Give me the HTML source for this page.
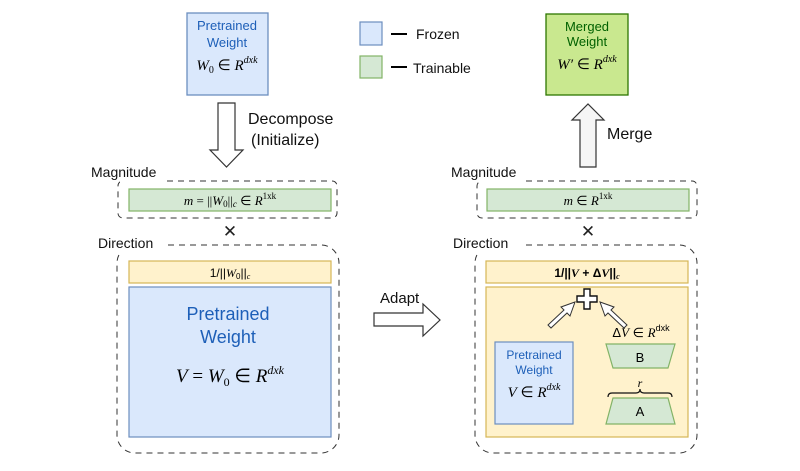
<!DOCTYPE html>
<html><head><meta charset="utf-8"><style>
html,body{margin:0;padding:0;background:#fff;width:800px;height:471px;overflow:hidden}
text{font-family:"Liberation Sans",sans-serif}
.m{font-family:"Liberation Serif",serif;font-style:italic}
</style></head><body>
<svg width="800" height="471" viewBox="0 0 800 471" xmlns="http://www.w3.org/2000/svg">
<rect x="187" y="13" width="81" height="82" fill="#dae8fc" stroke="#6c8ebf" stroke-width="1.3"/>
<text x="227" y="30" font-size="13" fill="#1d5fb8" text-anchor="middle">Pretrained</text>
<text x="227" y="47" font-size="13" fill="#1d5fb8" text-anchor="middle">Weight</text>
<text x="227" y="70" font-size="15" text-anchor="middle" class="m">W<tspan font-size="10" font-style="normal" dy="3">0</tspan><tspan dy="-3" font-style="normal"> ∈ </tspan>R<tspan font-size="10" dy="-7">dxk</tspan></text>
<polygon points="218,103 235,103 235,150 243,150 226.5,167 210,150 218,150" fill="#fff" stroke="#333" stroke-width="1.2"/>
<text x="248" y="124" font-size="16" fill="#111">Decompose</text>
<text x="251" y="145" font-size="16" fill="#111">(Initialize)</text>
<rect x="360" y="22" width="22" height="23" fill="#dae8fc" stroke="#6c8ebf" stroke-width="1.2"/>
<line x1="391" y1="34" x2="407" y2="34" stroke="#000" stroke-width="2"/>
<text x="416" y="39" font-size="14" fill="#111">Frozen</text>
<rect x="360" y="56" width="22" height="22" fill="#d5e8d4" stroke="#82b366" stroke-width="1.2"/>
<line x1="391" y1="67" x2="407" y2="67" stroke="#000" stroke-width="2"/>
<text x="413" y="73" font-size="14" fill="#111">Trainable</text>
<rect x="546" y="14" width="82" height="81" fill="#c9e88f" stroke="#2d7600" stroke-width="1.3"/>
<text x="587" y="31" font-size="13" fill="#006100" text-anchor="middle">Merged</text>
<text x="587" y="46" font-size="13" fill="#006100" text-anchor="middle">Weight</text>
<text x="587" y="69" font-size="15" text-anchor="middle" class="m">W′<tspan font-style="normal"> ∈ </tspan>R<tspan font-size="10" dy="-7">dxk</tspan></text>
<polygon points="580,167 596,167 596,120 604,120 588,104 572,120 580,120" fill="#f5f5f5" stroke="#333" stroke-width="1.2"/>
<text x="607" y="139" font-size="16" fill="#111">Merge</text>
<rect x="118" y="181" width="219" height="37" rx="5" fill="none" stroke="#333" stroke-width="1" stroke-dasharray="6,5"/>
<rect x="120" y="176" width="44" height="10" fill="#fff"/>
<text x="91" y="177" font-size="14" fill="#111">Magnitude</text>
<rect x="129" y="189" width="202" height="22" fill="#d5e8d4" stroke="#82b366" stroke-width="1.2"/>
<text x="230" y="205" font-size="13" text-anchor="middle" class="m">m<tspan font-style="normal"> = ||</tspan>W<tspan font-size="9" font-style="normal" dy="2">0</tspan><tspan font-style="normal" dy="-2">||</tspan><tspan font-size="9" dy="2">c</tspan><tspan font-style="normal" dy="-2"> ∈ </tspan>R<tspan font-size="9" font-style="normal" dy="-6">1xk</tspan></text>
<text x="230" y="237" font-size="17" text-anchor="middle" fill="#222">✕</text>
<rect x="117" y="245" width="222" height="208" rx="18" fill="none" stroke="#333" stroke-width="1" stroke-dasharray="6,5"/>
<rect x="110" y="238" width="54" height="14" fill="#fff"/>
<text x="98" y="248" font-size="14" fill="#111">Direction</text>
<rect x="129" y="261" width="202" height="22" fill="#fff2cc" stroke="#d6b656" stroke-width="1.2"/>
<text x="230" y="277" font-size="12" text-anchor="middle">1/||<tspan class="m">W</tspan><tspan font-size="8" dy="2">0</tspan><tspan dy="-2">||</tspan><tspan font-size="8" dy="2" class="m">c</tspan></text>
<rect x="129" y="287" width="202" height="150" fill="#dae8fc" stroke="#6c8ebf" stroke-width="1.2"/>
<text x="228" y="320" font-size="18" fill="#1d5fb8" text-anchor="middle">Pretrained</text>
<text x="228" y="343" font-size="18" fill="#1d5fb8" text-anchor="middle">Weight</text>
<text x="230" y="382" font-size="19" text-anchor="middle" class="m">V<tspan font-style="normal"> = </tspan>W<tspan font-size="12" font-style="normal" dy="4">0</tspan><tspan font-style="normal" dy="-4"> ∈ </tspan>R<tspan font-size="12" dy="-8">dxk</tspan></text>
<text x="380" y="303" font-size="15" fill="#111">Adapt</text>
<polygon points="374,313 423,313 423,304 440,320 423,336 423,326 374,326" fill="#fff" stroke="#333" stroke-width="1.2"/>
<rect x="477" y="181" width="220" height="37" rx="5" fill="none" stroke="#333" stroke-width="1" stroke-dasharray="6,5"/>
<rect x="479" y="176" width="44" height="10" fill="#fff"/>
<text x="451" y="177" font-size="14" fill="#111">Magnitude</text>
<rect x="487" y="189" width="202" height="22" fill="#d5e8d4" stroke="#82b366" stroke-width="1.2"/>
<text x="588" y="205" font-size="13" text-anchor="middle" class="m">m<tspan font-style="normal"> ∈ </tspan>R<tspan font-size="9" font-style="normal" dy="-6">1xk</tspan></text>
<text x="588" y="237" font-size="17" text-anchor="middle" fill="#222">✕</text>
<rect x="475" y="245" width="222" height="208" rx="18" fill="none" stroke="#333" stroke-width="1" stroke-dasharray="6,5"/>
<rect x="468" y="238" width="54" height="14" fill="#fff"/>
<text x="453" y="248" font-size="14" fill="#111">Direction</text>
<rect x="486" y="261" width="202" height="22" fill="#fff2cc" stroke="#d6b656" stroke-width="1.2"/>
<text x="587" y="277" font-size="12" text-anchor="middle" font-weight="bold">1/||<tspan class="m">V</tspan> + Δ<tspan class="m">V</tspan>||<tspan font-size="8" dy="2" class="m">c</tspan></text>
<rect x="486" y="287" width="202" height="150" fill="#fff2cc" stroke="#d6b656" stroke-width="1.2"/>
<polygon points="584,289 590,289 590,296 597,296 597,302 590,302 590,309 584,309 584,302 577,302 577,296 584,296" fill="#fff" stroke="#111" stroke-width="1.4"/>
<polygon points="548,325 564,310 561,307 575,302 570,316 567,313 551,328" fill="#fff" stroke="#333" stroke-width="1"/>
<polygon points="627,325 611,310 614,307 600,302 605,316 608,313 624,328" fill="#fff" stroke="#333" stroke-width="1"/>
<rect x="495" y="342" width="78" height="82" fill="#dae8fc" stroke="#6c8ebf" stroke-width="1.2"/>
<text x="534" y="359" font-size="12" fill="#1d5fb8" text-anchor="middle">Pretrained</text>
<text x="534" y="374" font-size="12" fill="#1d5fb8" text-anchor="middle">Weight</text>
<text x="534" y="397" font-size="15" text-anchor="middle" class="m">V<tspan font-style="normal"> ∈ </tspan>R<tspan font-size="10" dy="-7">dxk</tspan></text>
<text x="641" y="337" font-size="13" text-anchor="middle">Δ<tspan class="m">V</tspan> ∈ <tspan class="m">R</tspan><tspan font-size="9" dy="-6">dxk</tspan></text>
<polygon points="606,344 675,344 668,368 613,368" fill="#d5e8d4" stroke="#82b366" stroke-width="1.2"/>
<text x="640" y="362" font-size="13" text-anchor="middle" font-family="Liberation Serif">B</text>
<path d="M608,397 Q608,393 612,393 L636,393 Q640,393 640,389 Q640,393 644,393 L668,393 Q672,393 672,397" fill="none" stroke="#111" stroke-width="1.2"/>
<text x="640" y="387" font-size="12" text-anchor="middle" class="m">r</text>
<polygon points="613,398 668,398 675,424 606,424" fill="#d5e8d4" stroke="#82b366" stroke-width="1.2"/>
<text x="640" y="416" font-size="13" text-anchor="middle" font-family="Liberation Serif">A</text>
</svg>
</body></html>
